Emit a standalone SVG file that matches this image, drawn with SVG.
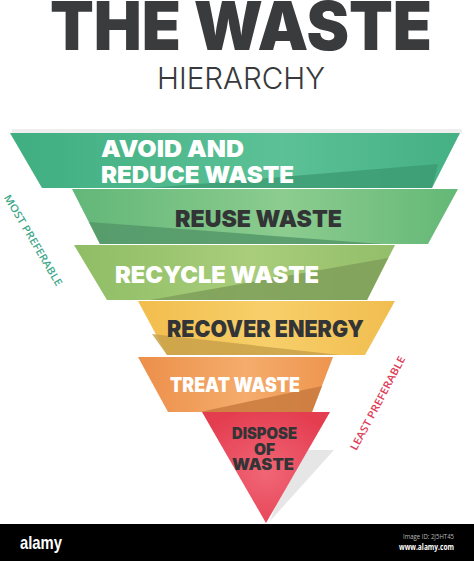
<svg xmlns="http://www.w3.org/2000/svg" width="474" height="561" viewBox="0 0 474 561">
<style>
.band-text{font-family:Inter,"Liberation Sans",Arial,sans-serif;font-weight:900;font-size:23.5px}
.w{fill:#ffffff}
.d{fill:#323436}
.side{font-family:"Open Sans","Liberation Sans",Arial,sans-serif;font-weight:600;font-size:10.5px}
</style>
<defs>
<linearGradient id="g1" x1="0" x2="1" y1="0" y2="0"><stop offset="0" stop-color="#3fae80"/><stop offset="0.6" stop-color="#5cc196"/><stop offset="1" stop-color="#44b083"/></linearGradient>
<linearGradient id="g2" x1="0" x2="1" y1="0" y2="0"><stop offset="0" stop-color="#62b778"/><stop offset="0.55" stop-color="#8ccc8f"/><stop offset="1" stop-color="#64b877"/></linearGradient>
<linearGradient id="g3" x1="0" x2="1" y1="0" y2="0"><stop offset="0" stop-color="#8fbd65"/><stop offset="0.55" stop-color="#a9cd7b"/><stop offset="1" stop-color="#93be69"/></linearGradient>
<linearGradient id="g4" x1="0" x2="1" y1="0" y2="0"><stop offset="0" stop-color="#f2bd4c"/><stop offset="0.5" stop-color="#f7cf6a"/><stop offset="1" stop-color="#f1bd4f"/></linearGradient>
<linearGradient id="g5" x1="0" x2="1" y1="0" y2="0"><stop offset="0" stop-color="#ec8f4a"/><stop offset="0.55" stop-color="#f5ac6c"/><stop offset="1" stop-color="#ee954f"/></linearGradient>
<radialGradient id="g6" cx="0.5" cy="0.55" r="0.6"><stop offset="0" stop-color="#f06676"/><stop offset="1" stop-color="#e43d50"/></radialGradient>
</defs>
<rect width="474" height="561" fill="#ffffff"/>
<g id="title">
<text x="241" y="50" text-anchor="middle" font-family="Inter,'Liberation Sans',Arial,sans-serif" font-weight="900" font-size="67" fill="#3a3b3d" textLength="382" lengthAdjust="spacingAndGlyphs">THE WASTE</text>
<text x="241" y="89" text-anchor="middle" font-family="Inter,'Liberation Sans',Arial,sans-serif" font-weight="300" font-size="30" fill="#38393b" textLength="168" lengthAdjust="spacingAndGlyphs">HIERARCHY</text>
</g>
<g id="shadows" fill="#e6e6e6">
<rect x="12" y="129" width="450" height="4" fill="#eeeeee"/>
<polygon points="296,450 334,450 270,521"/>
</g>
<g id="avoid">
<polygon points="10,133 460,133 432,188 42,188" fill="url(#g1)"/>
<polygon points="150,188 438,164 432,188" fill="#3c9a72" opacity="0.8"/>
<text class="band-text w" x="101" y="157" textLength="143" lengthAdjust="spacingAndGlyphs">AVOID AND</text>
<text class="band-text w" x="101" y="183" textLength="193" lengthAdjust="spacingAndGlyphs">REDUCE WASTE</text>
</g>
<g id="reuse">
<polygon points="72,189 458,189 428,244 100,244" fill="url(#g2)"/>
<polygon points="89,222 382,244 100,244" fill="#55986a" opacity="0.85"/>
<text class="band-text d" x="175" y="227" textLength="167" lengthAdjust="spacingAndGlyphs">REUSE WASTE</text>
</g>
<g id="recycle">
<polygon points="74,245 395,245 367,300 107,300" fill="url(#g3)"/>
<polygon points="150,300 388,258 367,300" fill="#7f9f59" opacity="0.85"/>
<text class="band-text w" x="115" y="283" textLength="204" lengthAdjust="spacingAndGlyphs">RECYCLE WASTE</text>
</g>
<g id="recover">
<polygon points="138,301 395,301 365,355 167,355" fill="url(#g4)"/>
<polygon points="152,334 340,355 167,355" fill="#c9a14a" opacity="0.85"/>
<text class="band-text d" x="167" y="337" textLength="197" lengthAdjust="spacingAndGlyphs">RECOVER ENERGY</text>
</g>
<g id="treat">
<polygon points="138,357 333,357 312,412 168,412" fill="url(#g5)"/>
<polygon points="200,412 322,386 312,412" fill="#c97a3e" opacity="0.85"/>
<text class="band-text w" x="170" y="392" style="font-size:20.5px" textLength="130" lengthAdjust="spacingAndGlyphs">TREAT WASTE</text>
</g>
<g id="dispose">
<polygon points="202,412 330,412 266,523" fill="url(#g6)"/>
<g class="band-text d" style="font-size:15.5px" text-anchor="middle">
<text x="264.5" y="439" textLength="65" lengthAdjust="spacingAndGlyphs">DISPOSE</text>
<text x="264.5" y="454.5">OF</text>
<text x="263" y="470" textLength="62" lengthAdjust="spacingAndGlyphs">WASTE</text>
</g>
</g>
<g id="side-labels">
<text class="side" x="0" y="0" text-anchor="middle" fill="#3fa88a" transform="translate(30,242) rotate(59.5)" textLength="104" lengthAdjust="spacingAndGlyphs">MOST PREFERABLE</text>
<text class="side" x="0" y="0" text-anchor="middle" fill="#de3d58" transform="translate(381,405) rotate(-62)" textLength="105" lengthAdjust="spacingAndGlyphs">LEAST PREFERABLE</text>
</g>
<g id="footer">
<rect x="0" y="524" width="474" height="37" fill="#000000"/>
<text x="20" y="549" font-family="'Liberation Sans',Arial,sans-serif" font-weight="700" font-size="19" fill="#ffffff" textLength="42" lengthAdjust="spacingAndGlyphs">alamy</text>
<text x="454" y="539" text-anchor="end" font-family="'Open Sans','Liberation Sans',Arial,sans-serif" font-size="6.5" fill="#bbbbbb" textLength="51" lengthAdjust="spacingAndGlyphs">Image ID: 2J5HT45</text>
<text x="454" y="550" text-anchor="end" font-family="'Open Sans','Liberation Sans',Arial,sans-serif" font-weight="700" font-size="8" fill="#ffffff" textLength="55" lengthAdjust="spacingAndGlyphs">www.alamy.com</text>
</g>
</svg>
